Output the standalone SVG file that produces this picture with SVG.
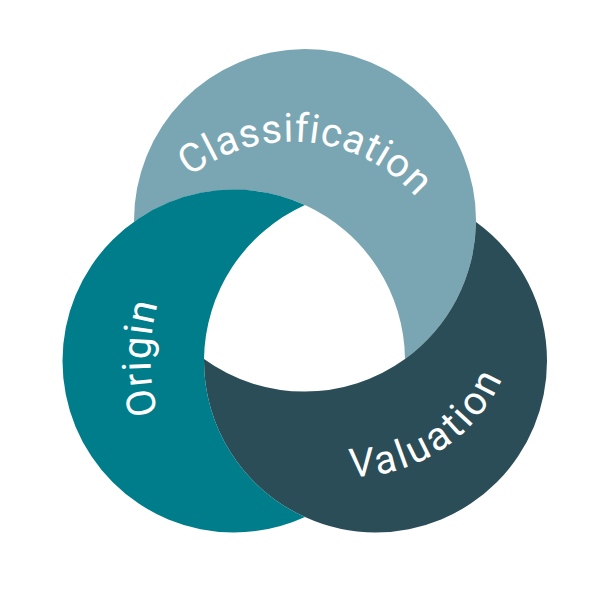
<svg xmlns="http://www.w3.org/2000/svg" width="600" height="600" viewBox="0 0 600 600">
<style>
.l{font-family:Roboto,"Liberation Sans",sans-serif;font-size:40px;font-weight:400;fill:#fff;letter-spacing:1.200px;text-anchor:middle}
</style>
<defs>
<path id="pt" d="M140.500 240.100A166 166 0 0 1 451.700 261.800"/>
<path id="pl" d="M188 477A207 207 0 0 1 188 239"/>
<path id="pr" d="M321 474.500A167 167 0 0 0 510.600 356"/>
</defs>
<rect width="600" height="600" fill="#fff"/>
<g id="connectors"></g>
<g id="classification">
<path fill="#7aa6b3" d="M134 222A171.500 171.500 0 0 1 304.500 49A171.500 171.500 0 0 1 476 222A171.500 171.500 0 0 1 405 359A171.500 171.500 0 0 0 305 205A171.500 171.500 0 0 0 134 222Z"/>
<text class="l" style="letter-spacing:.600px"><textPath href="#pt" startOffset="50.900%">Classification</textPath></text>
</g>
<g id="valuation">
<path fill="#2a4d57" d="M204 359A171.500 171.500 0 0 0 405 359A171.500 171.500 0 0 0 476 222A171.500 171.500 0 0 1 547 361A171.500 171.500 0 0 1 375.500 532.500A171.500 171.500 0 0 1 305 517A171.500 171.500 0 0 1 204 359Z"/>
<text class="l" style="letter-spacing:3px"><textPath href="#pr" startOffset="51.600%">Valuation</textPath></text>
</g>
<g id="origin">
<path fill="#007d8a" d="M305 205A171.500 171.500 0 0 0 234 189.500A171.500 171.500 0 0 0 62.500 361A171.500 171.500 0 0 0 234 532.500A171.500 171.500 0 0 0 305 517A171.500 171.500 0 0 1 204 359A171.500 171.500 0 0 1 305 205Z"/>
<text class="l"><textPath href="#pl" startOffset="50%">Origin</textPath></text>
</g>
</svg>
